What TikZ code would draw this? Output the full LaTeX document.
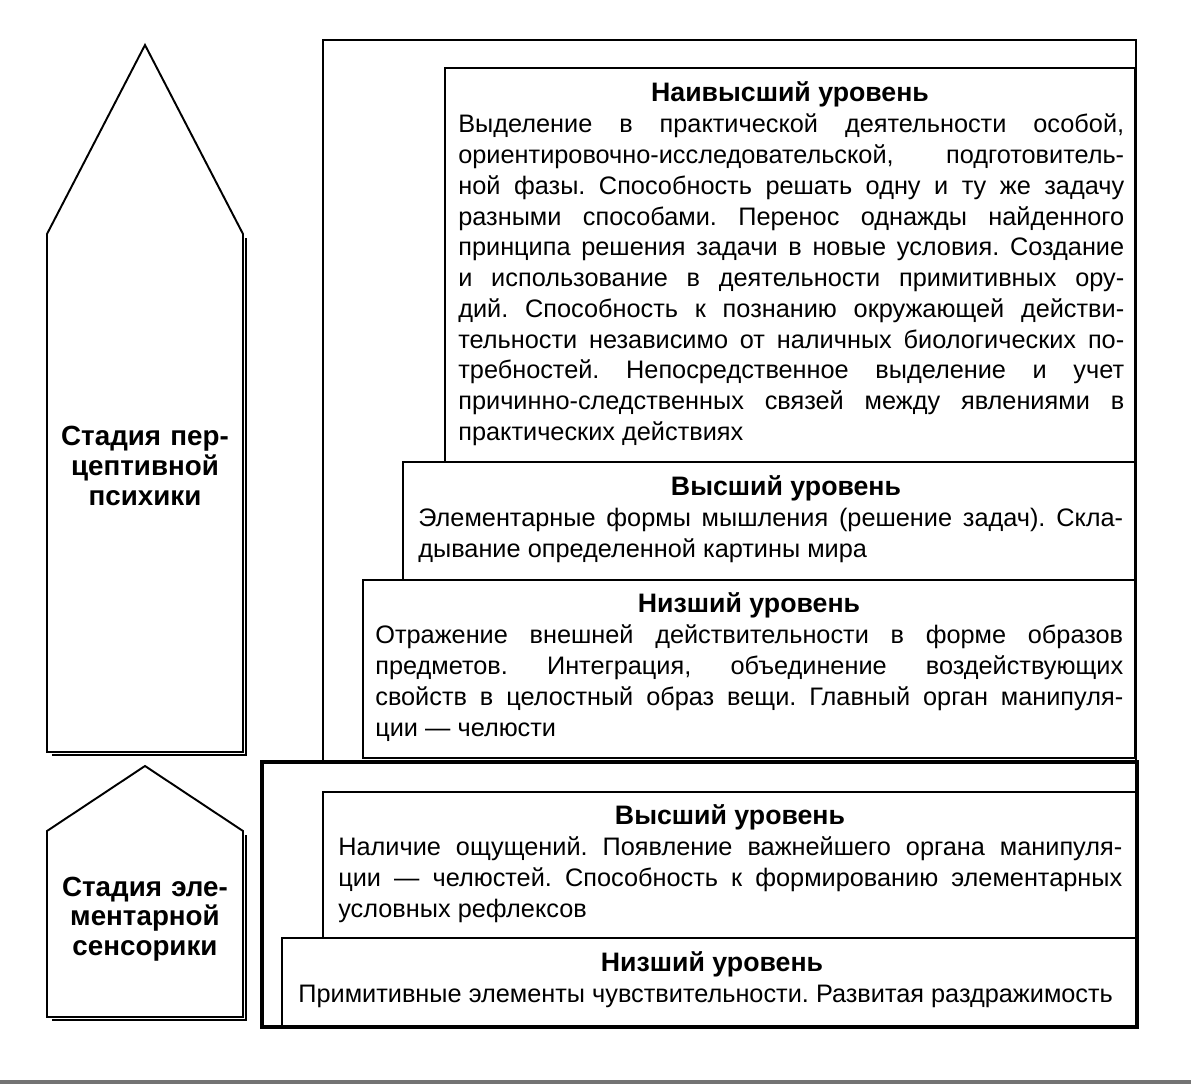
\documentclass[tikz,border=0pt]{standalone}
\usepackage{fontspec}
\setmainfont{Liberation Sans}
\frenchspacing
\newcommand{\bodyfont}{\fontsize{14.4}{17.5}\selectfont
    \spaceskip=0.28em plus 0.4em minus 0.1em\relax}

\begin{document}
\begin{tikzpicture}[x=0.02cm, y=-0.02cm,
    line join=miter,
    stage/.style={line width=1.1pt},
    shade_line/.style={line width=0.6pt},
    frame/.style={line width=1.4pt},
    big_frame/.style={line width=2.2pt},
    level/.style={line width=0.9pt},
    title/.style={font=\fontsize{15.2}{17.5}\selectfont\bfseries, inner sep=0pt, anchor=base},
    body/.style={font=\bodyfont, align=justify, inner sep=0pt, anchor=base west, text width=#1},
    stage_text/.style={font=\fontsize{15.8}{17}\selectfont\bfseries, align=center,
        text width=4cm, inner sep=0pt, anchor=base},
]
    \useasboundingbox (0,0) rectangle (1191,1087);

    % Stages
    \draw[stage] (47,234) -- (145,45) -- (243,234) -- (243,752) -- (47,752) -- cycle;
    \draw[shade_line] (52,755) -- (246,755) -- (246,238);
    \node[stage_text] (perceptive) at (145,446) {Стадия пер-\\цептивной\\психики};

    \draw[stage] (47,831) -- (145,766) -- (243,831) -- (243,1017) -- (47,1017) -- cycle;
    \draw[shade_line] (52,1020) -- (246,1020) -- (246,835);
    \node[stage_text] (sensory) at (145,896) {Стадия эле-\\ментарной\\сенсорики};

    % Levels of the perceptive psyche
    \draw[level] (445,68) rectangle (1135,462);
    \node[title] (top_title) at (790,102) {Наивысший уровень};
    \node[body=13.32cm] (top_text) at (458,133) {Выделение в практической деятельности особой,\linebreak
        ориентировочно-исследовательской, подготовитель-\linebreak
        ной фазы. Способность решать одну и ту же задачу\linebreak
        разными способами. Перенос однажды найденного\linebreak
        принципа решения задачи в новые условия. Создание\linebreak
        и использование в деятельности примитивных ору-\linebreak
        дий. Способность к познанию окружающей действи-\linebreak
        тельности независимо от наличных биологических по-\linebreak
        требностей. Непосредственное выделение и учет\linebreak
        причинно-следственных связей между явлениями в\linebreak
        практических действиях};

    \draw[level] (403,462) rectangle (1135,580);
    \node[title] (high_title) at (786,496) {Высший уровень};
    \node[body=14.1cm] (high_text) at (418,527) {Элементарные формы мышления (решение задач). Скла-\linebreak
        дывание определенной картины мира};

    \draw[level] (363,580) rectangle (1135,758);
    \node[title] (low_title) at (749,613) {Низший уровень};
    \node[body=14.96cm] (low_text) at (375,644) {Отражение внешней действительности в форме образов\linebreak
        предметов. Интеграция, объединение воздействующих\linebreak
        свойств в целостный образ вещи. Главный орган манипуля-\linebreak
        ции --- челюсти};

    \draw[frame] (323,760) -- (323,40) -- (1136,40) -- (1136,760);

    % Levels of the elementary sensory psyche
    \draw[level] (323,792) rectangle (1136,938);
    \node[title] (s_high_title) at (730,825) {Высший уровень};
    \node[body=15.68cm] (s_high_text) at (338,856) {Наличие ощущений. Появление важнейшего органа манипуля-\linebreak
        ции --- челюстей. Способность к формированию элементарных\linebreak
        условных рефлексов};

    \draw[level] (282,938) rectangle (1136,1027);
    \node[title] (s_low_title) at (712,971) {Низший уровень};
    \node[body=16.48cm] (s_low_text) at (298,1002) {Примитивные элементы чувствительности. Развитая раздражимость};

    \draw[big_frame] (262,762) rectangle (1137,1027);

    % Rule below
    \draw[line width=2.2pt, black!55] (0,1082) -- (1191,1082);
\end{tikzpicture}
\end{document}
